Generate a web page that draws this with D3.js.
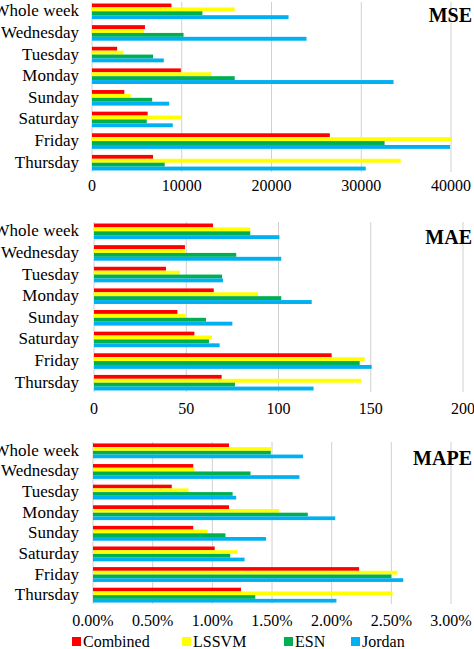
<!DOCTYPE html>
<html><head><meta charset="utf-8">
<script src="https://cdn.jsdelivr.net/npm/d3@7"></script>
<style>body{margin:0;background:#fff}</style>
</head><body>
<script>
// categories top to bottom
var days = ["Whole week","Wednesday","Tuesday","Monday","Sunday","Saturday","Friday","Thursday"];
var models = ["Combined","LSSVM","ESN","Jordan"];
var colors = ["#ff0000","#ffff00","#00b050","#00b0f0"];

var mse = [
  [8850,15900,12300,21900],[5900,5800,10200,23900],[2800,3500,6800,8000],[9900,13300,15900,33600],
  [3600,4300,6700,8600],[6200,10000,6100,9000],[26500,40100,32600,39900],[6800,34400,8100,30500]];
var mae = [
  [64.5,84.7,84.7,100.5],[49.3,49.3,77.1,101.5],[39,46.6,69.4,69.9],[64.9,88.9,101.5,118],
  [45.2,49.5,60.7,75],[54.4,64,62.3,68.1],[128.8,146.7,144,150.5],[69.2,144.9,76.4,119]];
var mape = [
  [1.14,1.49,1.49,1.76],[0.84,0.85,1.32,1.73],[0.66,0.80,1.17,1.20],[1.14,1.56,1.80,2.03],
  [0.84,0.96,1.11,1.45],[1.02,1.21,1.15,1.27],[2.23,2.55,2.50,2.60],[1.24,2.51,1.36,2.04]];

var mseTicks = [0,10000,20000,30000,40000];
var maeTicks = [0,50,100,150,200];
var mapeTicks = [0,0.5,1,1.5,2,2.5,3];

var FONT = "Liberation Serif, DejaVu Serif, serif";
var svg = d3.select("body").append("svg").attr("width",474).attr("height",649)
  .attr("font-family", FONT);

function panel(data, ticks, x0, x1, y0, y1, title, fmt, labY, titleY) {
  var g = svg.append("g");
  var x = d3.scaleLinear().domain([0, ticks[ticks.length-1]]).range([x0,x1]);
  var y = d3.scaleBand().domain(days).range([y0,y1]).paddingInner(0.28).paddingOuter(0.07);
  var sub = d3.scaleBand().domain(models).range([0,y.bandwidth()]);
  g.selectAll(".grid").data(ticks).enter().append("line")
    .attr("x1",d=>x(d)).attr("x2",d=>x(d)).attr("y1",y0).attr("y2",y1)
    .attr("stroke","#d0d0d0").attr("stroke-width",1);
  days.forEach(function(day,i){
    g.selectAll(null).data(data[i]).enter().append("rect")
      .attr("x",x(0)).attr("y",(d,j)=>y(day)+sub(models[j]))
      .attr("width",d=>x(d)-x(0)).attr("height",sub.bandwidth())
      .attr("fill",(d,j)=>colors[j]);
  });
  g.selectAll(".dl").data(days).enter().append("text")
    .attr("x",79).attr("y",d=>y(d)+y.bandwidth()/2+5).attr("text-anchor","end")
    .attr("font-size",17).text(d=>d);
  g.selectAll(".tl").data(ticks).enter().append("text")
    .attr("x",d=>x(d)).attr("y",labY).attr("text-anchor","middle")
    .attr("font-size",16).text(fmt);
  g.append("text").attr("x",472).attr("y",titleY).attr("text-anchor","end")
    .attr("font-size",20).attr("font-weight","bold").text(title);
}

panel(mse, mseTicks, 92, 451, 2, 172, "MSE", d=>d, 191, 22);
panel(mae, maeTicks, 94, 463, 222, 392, "MAE", d=>d, 414, 244);
panel(mape, mapeTicks, 93, 451, 442, 604, "MAPE", d=>d3.format(".2%")(d/100), 626, 465);

var lx = [72,182,284,351];
models.forEach(function(m,i){
  svg.append("rect").attr("x",lx[i]).attr("y",637).attr("width",9).attr("height",9).attr("fill",colors[i]);
  svg.append("text").attr("x",lx[i]+11).attr("y",647).attr("font-size",16).text(m);
});
</script>
</body></html>
